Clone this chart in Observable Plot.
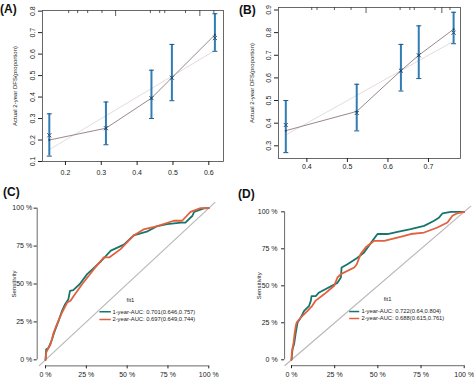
<!DOCTYPE html>
<html><head><meta charset="utf-8">
<script src="https://cdn.jsdelivr.net/npm/d3@7"></script>
<script src="https://cdn.jsdelivr.net/npm/@observablehq/plot@0.6"></script>
<style>
body{margin:0;background:#fff;}
#wrap{position:relative;width:474px;height:384px;overflow:hidden;font-family:"Liberation Sans",Arial,sans-serif;background:#fff;}
.panel{position:absolute;}
.lab{position:absolute;font-weight:bold;font-size:12px;line-height:12px;color:#111;font-family:"Liberation Sans",Arial,sans-serif;}
</style></head><body><div id="wrap"></div>
<script>
// ---------- Panel A data (calibration, training) ----------
const aPred = [0.155, 0.313, 0.44, 0.497, 0.617];
const aObs  = [0.20, 0.255, 0.395, 0.49, 0.69];
const aMark = [0.222, 0.255, 0.395, 0.49, 0.675];
const aLo   = [0.125, 0.178, 0.30, 0.383, 0.613];
const aHi   = [0.322, 0.377, 0.525, 0.645, 0.788];
const aRugX = [0.209, 0.234, 0.262, 0.302, 0.340, 0.437, 0.463, 0.477, 0.535, 0.575, 0.614];
const aRugN = [1, 1, 1, 1, 2, 1, 1, 1, 1, 2, 1];
const aXTicks = [0.2, 0.3, 0.4, 0.5, 0.6];
const aYTicks = [0.1, 0.2, 0.3, 0.4, 0.5, 0.6, 0.7, 0.8];

// ---------- Panel B data (calibration, validation) ----------
const bPred = [0.348, 0.523, 0.632, 0.676, 0.762];
const bObs  = [0.367, 0.452, 0.632, 0.70, 0.815];
const bMark = [0.392, 0.445, 0.632, 0.70, 0.80];
const bLo   = [0.27, 0.366, 0.542, 0.597, 0.751];
const bHi   = [0.50, 0.572, 0.748, 0.83, 0.89];
const bRugX = [0.412, 0.425, 0.468, 0.509, 0.546, 0.630, 0.654, 0.665, 0.716, 0.733, 0.753];
const bRugN = [1, 1, 1, 1, 2, 1, 1, 1, 1, 2, 1];
const bXTicks = [0.4, 0.5, 0.6, 0.7];
const bYTicks = [0.3, 0.4, 0.5, 0.6, 0.7, 0.8, 0.9];

// ---------- Panel C data (ROC, training) ----------
const cTealX = [0,0.004,0.016,0.027,0.04,0.05,0.06,0.08,0.10,0.12,0.14,0.15,0.17,0.21,0.255,0.30,0.34,0.40,0.48,0.54,0.62,0.68,0.745,0.83,0.857,0.90,0.91,0.97,1];
const cTealY = [0,0.07,0.075,0.10,0.136,0.17,0.20,0.257,0.32,0.367,0.40,0.455,0.46,0.50,0.565,0.61,0.65,0.72,0.76,0.82,0.845,0.88,0.895,0.905,0.905,0.95,0.975,0.998,1];
const cRedX  = [0,0.004,0.014,0.03,0.05,0.07,0.10,0.133,0.153,0.18,0.225,0.265,0.296,0.357,0.39,0.46,0.54,0.60,0.68,0.786,0.837,0.888,0.95,1];
const cRedY  = [0,0.048,0.07,0.10,0.18,0.235,0.31,0.378,0.39,0.433,0.50,0.554,0.598,0.675,0.675,0.73,0.82,0.86,0.88,0.917,0.917,0.975,1,1];
const cLegend = ["1-year-AUC: 0.701(0.646,0.757)", "2-year-AUC: 0.697(0.649,0.744)"];

// ---------- Panel D data (ROC, validation) ----------
const dTealX = [0,0.006,0.015,0.025,0.035,0.054,0.073,0.102,0.112,0.116,0.14,0.16,0.266,0.286,0.29,0.324,0.382,0.42,0.46,0.498,0.556,0.614,0.69,0.768,0.826,0.855,0.875,0.923,1];
const dTealY = [0,0.072,0.106,0.185,0.252,0.286,0.33,0.365,0.40,0.43,0.43,0.455,0.52,0.556,0.624,0.646,0.69,0.725,0.79,0.85,0.85,0.865,0.883,0.905,0.94,0.962,0.99,1,1];
const dRedX  = [0,0.002,0.012,0.019,0.025,0.03,0.054,0.093,0.12,0.14,0.19,0.247,0.266,0.286,0.363,0.378,0.40,0.43,0.479,0.537,0.653,0.69,0.768,0.845,0.903,0.932,0.96,1];
const dRedY  = [0,0.05,0.117,0.185,0.23,0.252,0.286,0.33,0.365,0.40,0.444,0.50,0.556,0.579,0.624,0.646,0.714,0.76,0.804,0.804,0.838,0.85,0.86,0.894,0.928,0.973,0.99,1];
const dLegend = ["1-year-AUC: 0.722(0.64,0.804)", "2-year-AUC: 0.688(0.615,0.761)"];

const rocTicks = [0, 0.25, 0.5, 0.75, 1];
const legendTitle = "fit1";
const yLabelCal = "Actual 2-year DFS(proportion)";
const yLabelRoc = "Sensitivity";

const FONT = '"Liberation Sans", Arial, sans-serif';
const TEAL = "#17766b";
const RED = "#e3603f";
const cap = {draw(ctx) { ctx.moveTo(-2.5, 0); ctx.lineTo(2.5, 0); }};

function calibPanel(o) {
  const ih = o.height - o.mt - o.mb;
  const perPx = (o.yDom[1] - o.yDom[0]) / ih;
  const pts = o.pred.map((x, i) => ({x, obs: o.obs[i], mark: o.mark[i], lo: o.lo[i], hi: o.hi[i]}));
  const rug = o.rugX.map((x, i) => ({x, n: o.rugN[i]}));
  const yMid = (o.yDom[0] + o.yDom[1]) / 2;
  return Plot.plot({
    width: o.width, height: o.height,
    marginLeft: o.ml, marginRight: o.mr, marginTop: o.mt, marginBottom: o.mb,
    x: {domain: o.xDom}, y: {domain: o.yDom},
    style: {fontFamily: FONT, fontSize: "7px", color: "#222", background: "transparent", overflow: "visible"},
    marks: [
      Plot.frame({stroke: "#444", strokeWidth: 0.8}),
      Plot.line(pts, {x: "x", y: "x", stroke: "#e2dddd", strokeWidth: 1}),
      Plot.line(pts, {x: "x", y: "obs", stroke: "#9a8987", strokeWidth: 1}),
      Plot.ruleX(pts, {x: "x", y1: "lo", y2: "hi", stroke: "#2f7db4", strokeWidth: 2}),
      Plot.dot(pts, {x: "x", y: "lo", symbol: cap, fill: "none", stroke: "#1d5a8a", strokeWidth: 1}),
      Plot.dot(pts, {x: "x", y: "hi", symbol: cap, fill: "none", stroke: "#1d5a8a", strokeWidth: 1}),
      Plot.dot(pts, {x: "x", y: "mark", symbol: "times", r: 2, stroke: "#2a4e7a", strokeWidth: 1}),
      Plot.dot(pts, {x: "x", y: "obs", r: 1, fill: "#2a3f5a"}),
      Plot.ruleX(rug, {x: "x", y1: o.yDom[1], y2: d => o.yDom[1] - d.n * 3 * perPx, stroke: "#333", strokeWidth: 0.8}),
      Plot.axisX({ticks: o.xTicks, tickSize: 4, tickPadding: o.xPad, label: null, tickFormat: d => d.toFixed(1)}),
      Plot.axisY({ticks: o.yTicks, tickSize: 4, tickFormat: () => "", label: null}),
      Plot.text(o.yTicks, {x: () => o.xDom[0], y: d => d, text: d => d.toFixed(1), rotate: -90, dx: -10}),
      Plot.text([yLabelCal], {x: () => o.xDom[0], y: () => yMid, text: d => d, rotate: -90, dx: o.labDx, fontSize: 6})
    ]
  });
}

function rocPanel(o) {
  const teal = o.tx.map((x, i) => ({x, y: o.ty[i]}));
  const red = o.rx.map((x, i) => ({x, y: o.ry[i]}));
  const pct = d => `${Math.round(d * 100)} %`;
  const L = o.leg;
  return Plot.plot({
    width: o.width, height: o.height,
    marginLeft: o.ml, marginRight: o.mr, marginTop: o.mt, marginBottom: o.mb,
    x: {domain: [-0.04, 1.04]}, y: {domain: [-0.04, 1.04]},
    style: {fontFamily: FONT, fontSize: "7px", color: "#222", background: "transparent", overflow: "visible"},
    marks: [
      Plot.link([0], {x1: -0.04, y1: -0.04, x2: 1.04, y2: 1.04, stroke: "#b9b9b9", strokeWidth: 1.2}),
      Plot.line(teal, {x: "x", y: "y", stroke: TEAL, strokeWidth: 1.8}),
      Plot.line(red, {x: "x", y: "y", stroke: RED, strokeWidth: 1.8}),
      Plot.ruleX([-0.04], {y1: 0, y2: 1, dx: o.axDx, stroke: "#444", strokeWidth: 0.8}),
      Plot.ruleY([-0.04], {x1: 0, x2: 1, stroke: "#444", strokeWidth: 0.8}),
      Plot.axisY({ticks: rocTicks, tickSize: 3, tickPadding: o.yPad, dx: o.axDx, tickFormat: pct, label: null}),
      Plot.axisX({ticks: rocTicks, tickSize: 3, tickPadding: 3, tickFormat: pct, label: null}),
      Plot.text([yLabelRoc], {x: () => -0.04, y: () => 0.5, text: d => d, rotate: -90, dx: o.labDx, fontSize: 6}),
      Plot.text([legendTitle], {x: () => L.xTitle, y: () => L.yTitle, text: d => d, fontSize: 5.8}),
      Plot.link([0], {x1: L.x1, x2: L.x2, y1: L.y1, y2: L.y1, stroke: TEAL, strokeWidth: 1.5}),
      Plot.link([0], {x1: L.x1, x2: L.x2, y1: L.y2, y2: L.y2, stroke: RED, strokeWidth: 1.5}),
      Plot.text([o.legend[0]], {x: () => L.xt, y: () => L.y1, text: d => d, textAnchor: "start", fontSize: 5.8}),
      Plot.text([o.legend[1]], {x: () => L.xt, y: () => L.y2, text: d => d, textAnchor: "start", fontSize: 5.8})
    ]
  });
}

const wrap = document.getElementById("wrap");
function place(node, left, top) {
  node.classList.add("panel");
  node.style.left = left + "px";
  node.style.top = top + "px";
  wrap.appendChild(node);
}
function label(txt, left, top) {
  const d = document.createElement("div");
  d.className = "lab"; d.textContent = txt;
  d.style.left = left + "px"; d.style.top = top + "px";
  wrap.appendChild(d);
}

place(calibPanel({width: 237, height: 192, ml: 42, mr: 14, mt: 10, mb: 31,
  xDom: [0.136, 0.641], yDom: [0.1, 0.803], xTicks: aXTicks, yTicks: aYTicks, xPad: 5, labDx: -27,
  pred: aPred, obs: aObs, mark: aMark, lo: aLo, hi: aHi, rugX: aRugX, rugN: aRugN}), 0, 0);

place(calibPanel({width: 237, height: 192, ml: 41, mr: 14, mt: 7, mb: 34,
  xDom: [0.330, 0.779], yDom: [0.244, 0.911], xTicks: bXTicks, yTicks: bYTicks, xPad: 2, labDx: -26,
  pred: bPred, obs: bObs, mark: bMark, lo: bLo, hi: bHi, rugX: bRugX, rugN: bRugN}), 237, 0);

place(rocPanel({width: 237, height: 192, ml: 38.5, mr: 22.2, mt: 9.6, mb: 18.6, axDx: -1.8, yPad: 2, labDx: -25,
  tx: cTealX, ty: cTealY, rx: cRedX, ry: cRedY, legend: cLegend,
  leg: {xTitle: 0.52, yTitle: 0.396, x1: 0.33, x2: 0.40, xt: 0.41, y1: 0.317, y2: 0.266}}), 0, 192);

place(rocPanel({width: 237, height: 192, ml: 47.1, mr: 3.4, mt: 13.4, mb: 18.8, axDx: 0, yPad: 4, labDx: -25.4,
  tx: dTealX, ty: dTealY, rx: dRedX, ry: dRedY, legend: dLegend,
  leg: {xTitle: 0.556, yTitle: 0.409, x1: 0.334, x2: 0.392, xt: 0.405, y1: 0.326, y2: 0.279}}), 237, 192);

label("(A)", 0, 3);
label("(B)", 239, 4);
label("(C)", 3, 186);
label("(D)", 238, 188);
</script></body></html>
